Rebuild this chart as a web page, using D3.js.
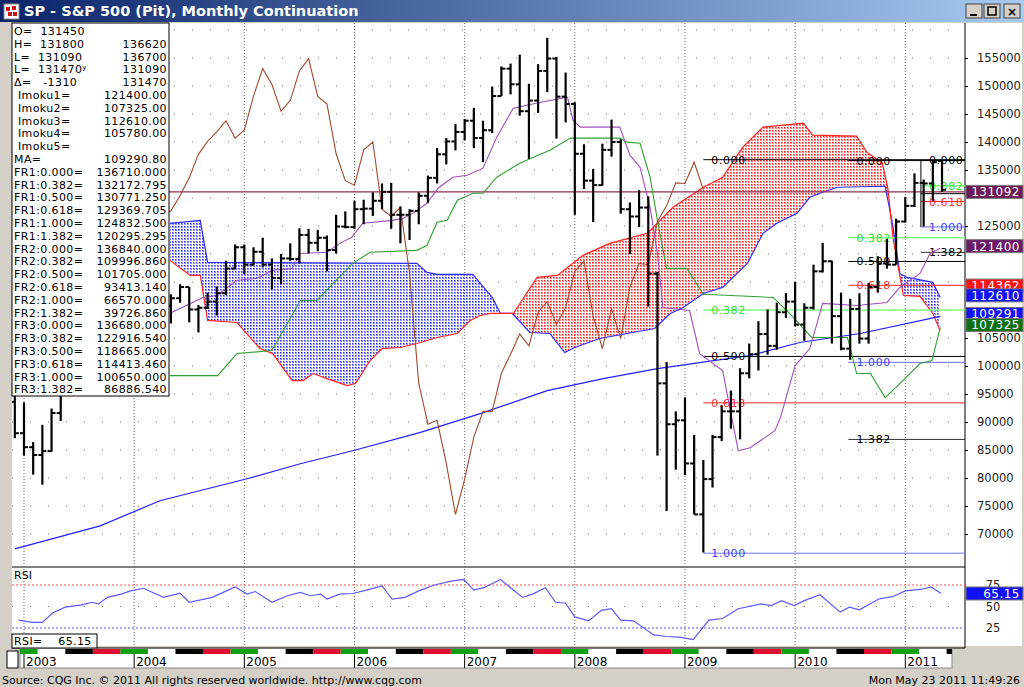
<!DOCTYPE html>
<html><head><meta charset="utf-8">
<script src="https://cdn.jsdelivr.net/npm/d3@7"></script>
<style>
body{margin:0;background:#d4d0c8;}
text{font-family:"DejaVu Sans",sans-serif;white-space:pre;}
</style></head>
<body><div id="chart"></div>
<script>
// monthly bars, Dec 2002 .. May 2011  [open, high, low, close]
let firstMonth = -1; // month index of first bar (0 = Jan 2003)
let ohlc = [
[93600,95400,87100,88000],
[88000,93500,84000,85500],[85500,86400,80600,84100],[84100,89500,78800,84800],[84800,92400,84700,91600],
[91600,96500,90200,96300],[96300,101500,96200,97500],[97500,101500,96200,99000],[99000,101100,96000,100800],
[100800,104000,99000,99600],[99600,105300,99500,105000],[105000,106300,103100,105800],[105800,111200,105800,111200],
[111200,115500,110500,113100],[113100,115900,112400,114500],[114500,116300,108700,112600],[112600,115000,110700,110700],
[110700,112800,107600,112100],[112100,114600,111300,114100],[114100,114100,107800,110100],[110100,110900,106000,110400],
[110400,113100,110200,111500],[111500,114200,109000,113000],[113000,118800,112700,117400],[117400,121700,117300,121200],
[121200,121700,116400,118100],[118100,121200,118000,120400],[120400,122900,117600,118100],[118100,119200,113700,115700],
[115700,120000,114600,119200],[119200,121900,118800,119100],[119100,124600,118300,123400],[123400,124500,120100,122000],
[122000,124300,120500,122900],[122900,123300,116900,120700],[120700,127000,120100,124900],[124900,127600,124600,124800],
[124800,129500,124500,128000],[128000,129700,125300,128100],[128100,131000,126800,129500],[129500,132600,128000,131100],
[131100,132700,124500,127000],[127000,128500,121900,127000],[127000,128000,122500,127700],[127700,131000,125300,130400],
[130400,134000,129100,133600],[133600,138900,132600,137800],[137800,140700,136000,140100],[140100,143200,138500,141800],
[141800,144100,140300,143800],[143800,146100,138900,140700],[140700,143800,136400,142100],[142100,149900,141600,148200],
[148200,153500,148200,153100],[153100,154000,148500,150300],[150300,155600,144700,145500],[145500,150400,137000,147400],
[147400,153900,145200,152700],[152700,158600,148900,154900],[154900,155200,140600,148100],[148100,152400,143500,146800],
[146800,147100,127000,137900],[137900,139600,131600,133100],[133100,135200,125700,132300],[132300,139700,132200,138600],
[138600,144000,137400,140000],[140000,140500,127200,128000],[128000,129200,120000,126700],[126700,131400,124800,128300],
[128300,130300,110600,116500],[116500,116800,84000,96900],[96900,100700,74100,89600],[89600,91900,81500,90300],
[90300,94400,80500,82600],[82600,87700,73500,73500],[73500,83200,66700,79800],[79800,87700,78300,87300],
[87300,93000,86600,91900],[91900,95600,88800,91900],[91900,99600,86900,98700],[98700,104000,97800,102100],
[102100,108000,99200,105700],[105700,110100,102000,103600],[103600,111300,102900,109600],[109600,113000,108600,111500],
[111500,115000,107100,107400],[107400,111200,104500,110400],[110400,118100,110100,116900],[116900,122000,116700,118700],
[118700,118800,104000,108900],[108900,113100,102800,103100],[103100,112000,101100,110200],[110200,113000,104000,104900],
[104900,114800,104000,114100],[114100,119600,113100,118300],[118300,122700,117400,118100],[118100,126300,118100,125800],
[125800,130200,125600,128600],[128600,134400,128400,132700],[132700,133300,124900,132600],[132600,136700,129500,136400],
[136620,136700,131090,131470]
];
let laggingShift = 26; // close drawn 26 months back

// [month, value] vertices
let tenkan = [[15.9,109400],[19.5,112240],[21,112600],[23.2,115300],[25.4,115650],[27.1,117100],[29.2,117430],[30.1,120100],
[33,120300],[34.4,121900],[35.7,123000],[36.9,125500],[40.2,126000],[41.3,126400],[42.4,127300],[43.9,129060],[45.1,131740],
[46.7,133700],[48.3,134070],[50,135320],[51.5,140870],[53.3,146050],[55.9,146950],[59.2,148000],[59.8,143900],[60.6,142660],
[64.9,142660],[66,137650],[67.1,135500],[68.2,128340],[69,120100],[69.6,110450],[72.5,109900],[73.6,102200],[76.1,99180],
[77.8,84870],[79.1,85400],[81.8,88450],[82.4,90770],[84,100070],[85.6,103120],[87,111170],[90.7,110810],[94,111350],
[95.4,114030],[97.6,116530],[98.7,120110],[99.8,121010]];
let kijun = [[15.9,98290],[21.1,98290],[23.2,102220],[27,102760],[30.1,111700],[31.9,111700],[35.8,118320],[37.7,120300],
[42.8,120650],[43.9,121550],[45,125660],[46.1,126020],[47.2,129600],[48.9,130850],[50,130850],[51.5,133710],[54,136220],
[56,137650],[57.3,138540],[59.5,140690],[64.9,140690],[65.7,139970],[67.1,139790],[68.2,133710],[69,126020],[70,117430],
[72.2,117430],[74,112800],[81.6,112240],[83.4,109380],[85.8,105090],[89.7,105090],[90.7,98650],[92.2,98650],[93.8,94350],
[95.4,96860],[97.6,100440],[98.9,100970],[99.8,106870]];
let spanA = [[15.9,118860],[18.1,116180],[19.2,116180],[20,108130],[23.2,107770],[25.7,103120],[27.1,102220],[29.2,97400],
[30.4,97400],[31.5,98650],[33,97750],[35.2,96500],[36.1,96860],[37.7,100970],[39,103120],[41,103300],[42.8,104010],
[45,105090],[47.2,105800],[48.6,108130],[49.7,109020],[50.8,109380],[53.3,109380],[55.9,115820],[58.1,116180],[60.9,119760],
[63.8,121900],[67.9,123690],[70.7,128340],[74,131920],[76.1,133710],[78.3,139080],[80.5,142660],[82.7,143010],[84.9,143370],
[85.9,141220],[90.7,141050],[91.8,138180],[93.5,136220],[94.1,131740],[94.7,122440],[95.8,112600],[97.6,112420],[99,109380],
[99.8,106340]];
let spanB = [[15.9,125480],[19.2,126020],[20,118500],[42.8,118320],[43.9,116710],[45,116360],[48.9,116360],[49.7,114750],
[51,112240],[51.9,109380],[53.2,109380],[55.1,105980],[57.3,105800],[58.9,102400],[60,103300],[62.7,104910],[68.7,106700],
[70.4,109380],[71.8,110450],[74,112960],[76.1,114030],[78.8,118320],[80.5,123690],[82,125480],[84.2,127270],[85.6,130130],
[87,131030],[88.6,131920],[93.8,132100],[94.6,125480],[95.4,116530],[96.2,115820],[99,114930],[99.8,112240]];
let movingAvg = [[-1,67340],[8.3,71450],[14.8,75930],[24.3,79860],[30.1,82550],[35.8,84870],[43.1,88100],[49.7,91490],
[57,95600],[63.1,97750],[69,99540],[73.6,100610],[79.1,101870],[84.5,104200],[91.1,105800],[99.8,108850]];
let rsi = [[-0.6,34.1],[0.9,31.5],[2,31.5],[3.1,42.4],[4.5,49.2],[6.3,51.9],[7.4,54.9],[8.1,53],[9.1,60.6],[10.6,64.4],
[11.6,68.2],[13,71.2],[15.2,60.6],[17,65.6],[18,54.9],[20.5,60.6],[23,72.7],[24.3,64.4],[25.2,67.4],[27,54.9],[28.7,62.5],
[30.1,66.3],[31.2,62.5],[32.3,64.4],[33,58.7],[34.4,64.4],[35.8,65.1],[37.3,69],[39,73.9],[40.1,58.7],[41.5,60.6],[43,68.2],
[44.7,75],[46.5,79.5],[47.9,81.4],[49,69],[50.1,71.9],[51.9,81.4],[54.3,60.6],[55.4,64.4],[56.8,71.9],[57.9,54.9],[59,53.8],
[60,37.9],[61.5,33.3],[62.9,45.5],[64,47.4],[65,34.1],[66.4,33.3],[68.6,17],[70,15.1],[71.4,14.4],[72.9,11.4],[74.6,34.1],
[76.1,36],[77.8,47.4],[80.3,53],[81.4,51.1],[82.5,56.8],[83.9,51.1],[85,56.8],[86.7,63.6],[88.9,43.5],[89.9,49.2],[91,46.2],
[93.1,58.7],[94.6,61.4],[96,68.2],[97.8,70.1],[98.8,72.7],[99.9,65.15]];

let fibLevels = ["0.000","0.382","0.500","0.618","1.000","1.382"];
let fibColors = ["#000","#80ff80","#000","#ff2020","#7070ff","#333"];
let fibText = ["#000","#30e030","#000","#ff3030","#4040ff","#000"];
let fr1 = [136710,132172.795,130771.25,129369.705,124832.5,120295.295];
let fr2 = [136840,109996.86,101705,93413.14,66570,39726.86];
let fr3 = [136680,122916.54,118665,114413.46,100650,86886.54];
let fibStart = [97.7, 74, 89.8];
let lastPrice = 131092;

let years = ["2003","2004","2005","2006","2007","2008","2009","2010","2011"];
let priceTicks = [70000,75000,80000,85000,90000,95000,100000,105000,125000,135000,140000,145000,150000,155000];
let priceBoxes = [[131092,"#6a1a56"],[121400,"#6a1a66"],[114362,"#ff1010"],[112610,"#1010ff"],[109291,"#1010ff"],[107325,"#107010"]];

let infoLeft = ["O=  131450","H=  131800","L=  131090","L=  131470ʸ","Δ=   -1310"," Imoku1="," Imoku2="," Imoku3="," Imoku4="," Imoku5=","MA=",
"FR1:0.000=","FR1:0.382=","FR1:0.500=","FR1:0.618=","FR1:1.000=","FR1:1.382=","FR2:0.000=","FR2:0.382=","FR2:0.500=","FR2:0.618=",
"FR2:1.000=","FR2:1.382=","FR3:0.000=","FR3:0.382=","FR3:0.500=","FR3:0.618=","FR3:1.000=","FR3:1.382="];
let infoRight = ["","136620","136700","131090","131470","121400.00","107325.00","112610.00","105780.00","","109290.80",
"136710.000","132172.795","130771.250","129369.705","124832.500","120295.295","136840.000","109996.860","101705.000","93413.140",
"66570.000","39726.860","136680.000","122916.540","118665.000","114413.460","100650.000","86886.540"];

const W = 1024, H = 687;
const plot = {l: 12, r: 965, t: 23, b: 566};
const rsiBox = {t: 568, b: 648};

let x = d3.scaleLinear().domain([0, 96]).range([24, 905.3]);
let y = d3.scaleLinear().domain([155000, 70000]).range([58, 534]);
let yr = d3.scaleLinear().domain([75, 25]).range([585, 628]);

const svg = d3.select("#chart").append("svg").attr("width", W).attr("height", H);
const defs = svg.append("defs");

function checker(id, color) {
  let p = defs.append("pattern").attr("id", id).attr("width", 3).attr("height", 3).attr("patternUnits", "userSpaceOnUse");
  p.append("rect").attr("width", 3).attr("height", 3).attr("fill", color).attr("opacity", 0.55);
  p.append("rect").attr("width", 1).attr("height", 3).attr("fill", "#fff");
  p.append("rect").attr("width", 3).attr("height", 1).attr("fill", "#fff");
  p.append("rect").attr("x", 1).attr("y", 1).attr("width", 1).attr("height", 1).attr("fill", color);
}
checker("redCheck", "#ff2020");
checker("blueCheck", "#3030ff");

defs.append("clipPath").attr("id", "plotClip").append("rect")
  .attr("x", plot.l).attr("y", plot.t).attr("width", plot.r - plot.l).attr("height", plot.b - plot.t);
defs.append("clipPath").attr("id", "rsiClip").append("rect")
  .attr("x", plot.l).attr("y", rsiBox.t).attr("width", plot.r - plot.l).attr("height", rsiBox.b - rsiBox.t);

let above = pts => d3.area().x(d => x(d[0])).y0(plot.t).y1(d => y(d[1]))(pts);
defs.append("clipPath").attr("id", "aboveB").append("path").attr("d", above(spanB));
defs.append("clipPath").attr("id", "aboveA").append("path").attr("d", above(spanA));

// title bar
let grad = defs.append("linearGradient").attr("id", "titleGrad");
grad.append("stop").attr("offset", 0).attr("stop-color", "#0a246a");
grad.append("stop").attr("offset", 1).attr("stop-color", "#a6caf0");
svg.append("rect").attr("width", W).attr("height", 22).attr("fill", "url(#titleGrad)");
svg.append("rect").attr("x", 4).attr("y", 4).attr("width", 15).attr("height", 15).attr("fill", "#fff").attr("stroke", "#888");
[[6,7],[12,6],[8,12],[13,12]].forEach(p => svg.append("rect").attr("x", p[0]).attr("y", p[1]).attr("width", 4).attr("height", 4).attr("fill", "#d01010"));
svg.append("text").attr("x", 24).attr("y", 16).attr("fill", "#fff").attr("font-size", 14.5).attr("font-weight", "bold")
  .text("SP - S&P 500 (Pit), Monthly Continuation");
[966, 984, 1004].forEach(bx => {
  svg.append("rect").attr("x", bx).attr("y", 4).attr("width", 16).attr("height", 14).attr("fill", "#d4d0c8").attr("stroke", "#404040");
});
svg.append("line").attr("x1", 970).attr("x2", 977).attr("y1", 15).attr("y2", 15).attr("stroke", "#000").attr("stroke-width", 2);
svg.append("rect").attr("x", 988).attr("y", 7).attr("width", 8).attr("height", 8).attr("fill", "none").attr("stroke", "#000").attr("stroke-width", 1.5);
svg.append("text").attr("x", 1012).attr("y", 16).attr("text-anchor", "middle").attr("font-size", 12).attr("font-weight", "bold").text("×");

// panels
svg.append("rect").attr("x", plot.l).attr("y", plot.t).attr("width", W - plot.l - 2).attr("height", 646 - plot.t).attr("fill", "#fff");
svg.append("line").attr("x1", plot.r).attr("x2", plot.r).attr("y1", plot.t).attr("y2", rsiBox.b).attr("stroke", "#000");
svg.append("line").attr("x1", plot.l).attr("x2", plot.r).attr("y1", plot.b + 1).attr("y2", plot.b + 1).attr("stroke", "#000");
svg.append("line").attr("x1", plot.l).attr("x2", plot.r).attr("y1", rsiBox.b).attr("y2", rsiBox.b).attr("stroke", "#000");

// grid
let grid = svg.append("g").attr("clip-path", "url(#plotClip)");
grid.selectAll(".hg").data(d3.range(70000, 160001, 5000)).enter().append("line")
  .attr("x1", plot.l).attr("x2", plot.r).attr("y1", d => y(d)).attr("y2", d => y(d))
  .attr("stroke", "#777").attr("stroke-dasharray", "1,17");
svg.selectAll(".vg").data(years).enter().append("line")
  .attr("x1", (d, i) => x(i * 12)).attr("x2", (d, i) => x(i * 12)).attr("y1", plot.t).attr("y2", rsiBox.b)
  .attr("stroke", "#666").attr("stroke-dasharray", "1,2");
svg.selectAll(".rg").data([50]).enter().append("line")
  .attr("x1", plot.l).attr("x2", plot.r).attr("y1", d => yr(d)).attr("y2", d => yr(d))
  .attr("stroke", "#777").attr("stroke-dasharray", "1,17");

const g = svg.append("g").attr("clip-path", "url(#plotClip)");

// cloud
let poly = d3.line().x(d => x(d[0])).y(d => y(d[1]))(spanA.concat(spanB.slice().reverse())) + "Z";
g.append("path").attr("d", poly).attr("fill", "url(#redCheck)").attr("clip-path", "url(#aboveB)");
g.append("path").attr("d", poly).attr("fill", "url(#blueCheck)").attr("clip-path", "url(#aboveA)");

let line = d3.line().x(d => x(d[0])).y(d => y(d[1]));
g.append("path").attr("d", line(spanB)).attr("fill", "none").attr("stroke", "#2a2aff").attr("stroke-width", 1.2);
g.append("path").attr("d", line(spanA)).attr("fill", "none").attr("stroke", "#ff2020").attr("stroke-width", 1.2);
g.append("path").attr("d", line(movingAvg)).attr("fill", "none").attr("stroke", "#2020ff").attr("stroke-width", 1.2);

// price line
g.append("line").attr("x1", plot.l).attr("x2", plot.r).attr("y1", y(lastPrice)).attr("y2", y(lastPrice))
  .attr("stroke", "#8a3050").attr("stroke-width", 1.2);

// fib retracements
[fr1, fr2, fr3].forEach((set, si) => {
  set.forEach((v, i) => {
    let yy = y(v);
    if (yy < plot.t || yy > plot.b) return;
    g.append("line").attr("x1", x(fibStart[si])).attr("x2", plot.r).attr("y1", yy).attr("y2", yy)
      .attr("stroke", fibColors[i]).attr("stroke-width", i == 1 ? 1.5 : 1);
    if (si == 0 && i == 2) return;
    g.append("text").attr("x", x(fibStart[si]) + 8).attr("y", yy + 4).attr("font-size", 11).attr("letter-spacing", 0.6)
      .attr("fill", fibText[i]).text(fibLevels[i]);
  });
});
g.append("line").attr("x1", x(fibStart[0])).attr("x2", x(fibStart[0])).attr("y1", y(fr1[0])).attr("y2", y(fr1[4])).attr("stroke", "#000");

// lagging, tenkan, kijun
let lag = ohlc.map((d, i) => [firstMonth + i - laggingShift, d[3]]);
g.append("path").attr("d", line(lag)).attr("fill", "none").attr("stroke", "#a04a30").attr("stroke-width", 1.1);
g.append("path").attr("d", line(kijun)).attr("fill", "none").attr("stroke", "#30a030").attr("stroke-width", 1.1);
g.append("path").attr("d", line(tenkan)).attr("fill", "none").attr("stroke", "#a050c0").attr("stroke-width", 1.1);

// bars
let bars = g.selectAll(".bar").data(ohlc).enter().append("g").attr("class", "bar")
  .attr("transform", (d, i) => `translate(${x(firstMonth + i)},0)`);
bars.append("line").attr("y1", d => y(d[1])).attr("y2", d => y(d[2])).attr("stroke", "#000").attr("stroke-width", 2.2);
bars.append("line").attr("x1", -4).attr("x2", 0).attr("y1", d => y(d[0])).attr("y2", d => y(d[0])).attr("stroke", "#000").attr("stroke-width", 2);
bars.append("line").attr("x1", 0).attr("x2", 4).attr("y1", d => y(d[3])).attr("y2", d => y(d[3])).attr("stroke", "#000").attr("stroke-width", 2);

// right axis
let axis = svg.append("g").attr("transform", `translate(${plot.r},0)`)
  .call(d3.axisRight(y).tickValues(priceTicks).tickSize(3).tickPadding(9).tickFormat(d3.format("d")));
axis.select(".domain").remove();
axis.selectAll("text").attr("font-size", 11.5).attr("fill", "#222").attr("font-family", "Liberation Sans, sans-serif");
priceBoxes.forEach(b => {
  let yy = y(b[0]);
  svg.append("rect").attr("x", 966).attr("y", yy - 6.5).attr("width", 57).attr("height", 13).attr("fill", b[1]).attr("stroke", "#777");
  svg.append("text").attr("x", 1020).attr("y", yy + 4.5).attr("text-anchor", "end").attr("font-size", 12)
    .attr("letter-spacing", 0.5).attr("fill", "#fff").text(b[0]);
});

// info box
let info = svg.append("g");
info.append("rect").attr("x", 12).attr("y", 23).attr("width", 157).attr("height", 373).attr("fill", "#fff").attr("stroke", "#000");
infoLeft.forEach((t, i) => {
  info.append("text").attr("x", 14).attr("y", 35 + i * 12.8).attr("font-size", 11).attr("letter-spacing", 0.4).text(t);
  info.append("text").attr("x", 167).attr("y", 35 + i * 12.8).attr("font-size", 11).attr("letter-spacing", 0.4)
    .attr("text-anchor", "end").text(infoRight[i]);
});

// RSI panel
const r = svg.append("g").attr("clip-path", "url(#rsiClip)");
r.append("line").attr("x1", plot.l).attr("x2", plot.r).attr("y1", yr(75)).attr("y2", yr(75)).attr("stroke", "#ff5050").attr("stroke-dasharray", "2,2");
r.append("line").attr("x1", plot.l).attr("x2", plot.r).attr("y1", yr(25)).attr("y2", yr(25)).attr("stroke", "#5050ff").attr("stroke-dasharray", "2,2");
r.append("path").attr("d", d3.line().x(d => x(d[0])).y(d => yr(d[1]))(rsi)).attr("fill", "none").attr("stroke", "#5a5aff").attr("stroke-width", 1.2);
svg.append("text").attr("x", 14).attr("y", 579).attr("font-size", 11).text("RSI");
svg.append("rect").attr("x", 12).attr("y", 634).attr("width", 85).attr("height", 14).attr("fill", "#fff").attr("stroke", "#000");
svg.append("text").attr("x", 14).attr("y", 645).attr("font-size", 11).attr("letter-spacing", 0.4).text("RSI=    65.15");
[75, 50, 25].forEach(v => svg.append("text").attr("x", 993).attr("y", yr(v) + 4).attr("text-anchor", "middle")
  .attr("font-size", 11.5).attr("fill", "#222").attr("font-family", "Liberation Sans, sans-serif").text(v));
svg.append("rect").attr("x", 966).attr("y", yr(65.15) - 6.5).attr("width", 57).attr("height", 13).attr("fill", "#1010ff").attr("stroke", "#777");
svg.append("text").attr("x", 1020).attr("y", yr(65.15) + 4.5).attr("text-anchor", "end").attr("font-size", 12).attr("letter-spacing", 0.5).attr("fill", "#fff").text("65.15");

// time strip
svg.append("rect").attr("x", 0).attr("y", 649).attr("width", W).attr("height", 21).attr("fill", "#d4d0c8");
svg.append("rect").attr("x", 20).attr("y", 649).attr("width", 932).attr("height", 19).attr("fill", "#fff").attr("stroke", "#888");
let qColors = ["#10a010", "#fff", "#000", "#e01030"];
let quarters = d3.range(0, 36);
svg.selectAll(".q").data(quarters).enter().append("rect")
  .attr("x", d => Math.max(20, x(d * 3 - 1.5))).attr("y", 649).attr("height", 5)
  .attr("width", d => Math.min(x(d * 3 + 1.5), 952) - Math.max(20, x(d * 3 - 1.5)))
  .attr("fill", d => qColors[d % 4]);
years.forEach((t, i) => {
  svg.append("line").attr("x1", x(i * 12)).attr("x2", x(i * 12)).attr("y1", 654).attr("y2", 668).attr("stroke", "#000");
  svg.append("text").attr("x", x(i * 12) + 2).attr("y", 666).attr("font-size", 12).attr("font-family", "Liberation Sans, sans-serif").text(t);
});
svg.append("rect").attr("x", 7).attr("y", 651).attr("width", 11).attr("height", 17).attr("fill", "#fff").attr("stroke", "#000");

// footer
svg.append("text").attr("x", 2).attr("y", 684).attr("font-size", 11).attr("font-family", "Liberation Sans, sans-serif")
  .text("Source: CQG Inc. © 2011 All rights reserved worldwide. http://www.cqg.com");
svg.append("text").attr("x", 1020).attr("y", 684).attr("text-anchor", "end").attr("font-size", 11).attr("font-family", "Liberation Sans, sans-serif")
  .text("Mon May 23 2011 11:49:26");
</script>
</body></html>
